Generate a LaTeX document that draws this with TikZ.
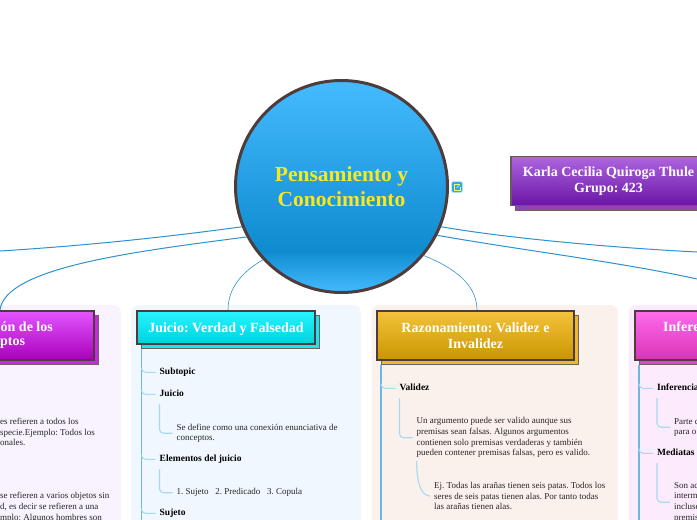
\documentclass[tikz,border=0pt]{standalone}
\usepackage{fontspec}
\setmainfont{Liberation Serif}
\usetikzlibrary{shadows}
\frenchspacing
\definecolor{boxline}{HTML}{4E3B3B}
\definecolor{corelight}{HTML}{45BBFF}
\definecolor{coredark}{HTML}{0F8BD0}
\definecolor{corename}{HTML}{FCE61E}
\definecolor{toplink}{HTML}{2F92CE}
\definecolor{trunkblue}{HTML}{6CB6E2}
\definecolor{twigblue}{HTML}{A9D8F2}
\definecolor{clasiftop}{HTML}{E255FF}
\definecolor{clasifbot}{HTML}{AA00BB}
\definecolor{clasifback}{HTML}{C828E0}
\definecolor{juiciotop}{HTML}{26F4FF}
\definecolor{juiciobot}{HTML}{00D2DE}
\definecolor{juicioback}{HTML}{1CE4F0}
\definecolor{razontop}{HTML}{F3C33A}
\definecolor{razonbot}{HTML}{C99500}
\definecolor{razonback}{HTML}{EDB82E}
\definecolor{infertop}{HTML}{FF6BEB}
\definecolor{inferbot}{HTML}{D933B8}
\definecolor{inferback}{HTML}{E044C8}
\definecolor{autoratop}{HTML}{AE66DE}
\definecolor{autorabot}{HTML}{6A14A6}
\definecolor{autoraback}{HTML}{9044BC}
\pgfdeclareverticalshading{coreshade}{100bp}{color(0bp)=(corelight); color(25bp)=(corelight); color(35bp)=(coredark); color(75bp)=(corelight); color(100bp)=(corelight)}
\tikzset{
	core/.style={circle,minimum size=212pt,inner sep=0pt,draw=boxline,line width=3pt,shading=coreshade,text=corename,align=center,font=\bfseries\fontsize{21.5}{24.3}\selectfont},
	topicbox/.style={rectangle,inner sep=0pt,draw=boxline,line width=2pt,text=white,align=center,font=\bfseries\fontsize{14}{16}\selectfont,top color=#1top,bottom color=#1bot,copy shadow={shadow xshift=4.5pt,shadow yshift=-4.5pt,draw=boxline!80!white,line width=.8pt,fill=#1back}},
	topictext/.style={inner sep=0pt,text=white,font=\bfseries\fontsize{14}{16}\selectfont},
	subtopic/.style={anchor=west,yshift=-.8pt,inner sep=0pt,text height=7pt,text depth=2pt,font=\bfseries\fontsize{9.5}{10.6}\selectfont},
	leaf/.style={anchor=west,yshift=-.7pt,inner sep=0pt,align=left,text=black!85,font=\fontsize{9}{10.6}\selectfont},
	mainlink/.style={draw=toplink,line width=1pt},
	thinlink/.style={draw=toplink,line width=.6pt},
	trunk/.style={draw=trunkblue,line width=1.3pt},
	twig/.style={draw=twigblue,line width=1.1pt,rounded corners=4pt}
}
\begin{document}
\begin{tikzpicture}[x=1pt,y=-1pt]
	\useasboundingbox (0,0) rectangle (697,520);
	\fill[white] (0,0) rectangle (697,520);
	\fill[rounded corners=8pt,color={rgb,255:red,248;green,243;blue,254}] (-20,305) rectangle (121,540);
	\fill[rounded corners=8pt,color={rgb,255:red,241;green,247;blue,254}] (131,305) rectangle (361,540);
	\fill[rounded corners=8pt,color={rgb,255:red,251;green,241;blue,236}] (371.5,305) rectangle (618,540);
	\fill[rounded corners=8pt,color={rgb,255:red,252;green,235;blue,252}] (628.5,305) rectangle (760,540);

	\node[core] (central) at (341.5,186.5) {Pensamiento y\\Conocimiento};
	\node[rounded corners=1.5pt,fill=corelight!60!coredark,draw=corelight!30!white,line width=.5pt,minimum size=11pt,inner sep=0pt] (linkicon) at (457,187) {};
	\draw[corename!60!white,line width=.5pt] (459.5,184.5) -- (454.5,184.5) -- (454.5,190) -- (460,190) -- (460,187);
	\draw[corename!60!white,line width=.4pt] (456.5,188) -- (460,184.5);

	\node[topicbox=autora,minimum width=195pt,minimum height=49pt,draw=boxline!85!white,line width=1.6pt] (autora) at (608.5,181) {Karla Cecilia Quiroga Thule\\Grupo: 423};
	\node[topicbox=clasif,minimum width=188pt,minimum height=49pt] (clasif) at (0,335.5) {};
	\node[topictext,anchor=west] (clasifa) at (0.5,327) {ón de los};
	\node[topictext,anchor=west] (clasifb) at (0,343) {ptos};
	\node[topicbox=juicio,minimum width=177.5pt,minimum height=33pt,text depth=0pt] (juicio) at (226,327.5) {Juicio: Verdad y Falsedad};
	\node[topicbox=razon,minimum width=197pt,minimum height=49pt] (razon) at (475.5,335.5) {Razonamiento: Validez e\\Invalidez};
	\node[topicbox=infer,minimum width=200pt,minimum height=49pt] (infer) at (735,335.5) {};
	\node[topictext,anchor=west] (infera) at (663,327) {Infere};

	\coordinate (edgea) at (0,251);
	\coordinate (edgeb) at (697,252);
	\coordinate (edgec) at (697,279);
	\draw[mainlink] (central.202) .. controls (160,238) and (80,246) .. (edgea);
	\draw[mainlink] (central.208) .. controls (130,252) and (5,268) .. (clasif.north);
	\draw[mainlink] (central.338) .. controls (500,237) and (600,247) .. (edgeb);
	\draw[mainlink] (central.333) .. controls (520,250) and (620,262) .. (edgec);
	\draw[thinlink] (central.223) .. controls (242,272) and (228,288) .. ([xshift=2pt]juicio.north);
	\draw[thinlink] (central.320) .. controls (455,268) and (477,285) .. ([xshift=1.5pt]razon.north);

	\node[leaf] (leafa) at (0,431.5) {es refieren a todos los\\specie.Ejemplo: Todos los\\onales.};
	\node[leaf] (leafb) at (0,506.5) {se refieren a varios objetos sin\\d, es decir se refieren a una\\mplo: Algunos hombres son};

	\node[subtopic] (jsubtopic) at (159.5,371.5) {Subtopic};
	\node[subtopic] (jjuicio) at (159.5,393.5) {Juicio};
	\node[leaf] (jdefine) at (176.5,432.5) {Se define como una conexión enunciativa de\\conceptos.};
	\node[subtopic] (jelem) at (159.5,458.5) {Elementos del juicio};
	\node[leaf] (jlista) at (176.5,492) {1. Sujeto\ \ \ 2. Predicado\ \ \ 3. Copula};
	\node[subtopic] (jsujeto) at (159.5,512.5) {Sujeto};
	\coordinate (jend) at (141.5,520);
	\draw[trunk] (141.5,349) -- (jend);
	\draw[twig] (jend |- jsubtopic.north) |- ([xshift=-4pt]jsubtopic.west);
	\draw[twig] (jend |- jjuicio.north) |- ([xshift=-4pt]jjuicio.west);
	\draw[twig] (jend |- jelem.north) |- ([xshift=-4pt]jelem.west);
	\draw[twig] (jend |- jsujeto.north) |- ([xshift=-4pt]jsujeto.west);
	\draw[twig] ([yshift=-5pt]jjuicio.south west) |- ([xshift=-4pt]jdefine.west);
	\draw[twig] ([yshift=-5pt]jelem.south west) |- ([xshift=-4pt]jlista.west);

	\node[subtopic] (rvalidez) at (399.5,387.5) {Validez};
	\node[leaf] (rargumento) at (416.5,437) {Un argumento puede ser valido aunque sus\\premisas sean falsas. Algunos argumentos\\contienen solo premisas verdaderas y también\\pueden contener premisas falsas, pero es valido.};
	\node[leaf] (rejemplo) at (434,495.5) {Ej. Todas las arañas tienen seis patas. Todos los\\seres de seis patas tienen alas. Por tanto todas\\las arañas tienen alas.};
	\coordinate (rend) at (381,520);
	\draw[trunk] (381,365) -- (rend);
	\draw[twig] (rend |- rvalidez.north) |- ([xshift=-4pt]rvalidez.west);
	\draw[twig] ([yshift=-5pt]rvalidez.south west) |- ([xshift=-4pt]rargumento.west);
	\draw[twig] ([yshift=-3pt]rargumento.south west) .. controls (417,482) and (420,495) .. ([xshift=-4pt]rejemplo.west);

	\node[subtopic] (iinferencia) at (657,387.5) {Inferencia};
	\node[leaf] (iparte) at (674,426.5) {Parte d\\para o};
	\node[subtopic] (imediatas) at (657,452.5) {Mediatas};
	\node[leaf] (ison) at (674,501.5) {Son ac\\interm\\incluse\\premis};
	\coordinate (iend) at (639,520);
	\draw[trunk] (639,365) -- (iend);
	\draw[twig] (iend |- iinferencia.north) |- ([xshift=-4pt]iinferencia.west);
	\draw[twig] (iend |- imediatas.north) |- ([xshift=-4pt]imediatas.west);
	\draw[twig] ([yshift=-5pt]iinferencia.south west) |- ([xshift=-4pt]iparte.west);
	\draw[twig] ([yshift=-5pt]imediatas.south west) |- ([xshift=-4pt]ison.west);
\end{tikzpicture}
\end{document}
